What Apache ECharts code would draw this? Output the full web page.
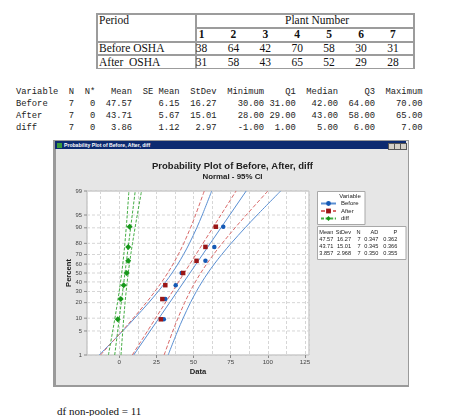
<!DOCTYPE html>
<html><head><meta charset="utf-8">
<script src="https://cdn.jsdelivr.net/npm/echarts/dist/echarts.min.js"></script>
<style>
html,body{margin:0;padding:0;background:#fff;width:460px;height:416px;overflow:hidden;position:relative}
.abs{position:absolute}
.serif{font-family:"Liberation Serif","Times New Roman",serif;font-size:11.5px;color:#111;white-space:pre;line-height:12px}
.hl{position:absolute;height:1.5px;background:#9c9c9c}
.vl{position:absolute;width:1.5px;background:#9c9c9c}
#stats{position:absolute;left:16px;top:87.4px;margin:0;font-family:"Liberation Mono","Courier New",monospace;font-size:8.8px;line-height:11.8px;color:#222;white-space:pre}
#win{position:absolute;left:53px;top:140px;width:352px;height:244px;background:#e6e6e6;border:1px solid #9a9a9a;border-left:3px solid #9a9a9a;border-bottom:2px solid #9a9a9a}
#tbar{position:absolute;left:55px;top:141px;width:351px;height:8px;background:#0c2a70}
#tbar span{position:absolute;left:9px;top:0;font:bold 5.1px "Liberation Sans",Arial,sans-serif;color:#fff;line-height:8px;white-space:nowrap}
.btn{position:absolute;top:142.5px;width:5px;height:5px;background:#d4d0c8;border:0.5px solid #555}
#chart{position:absolute;left:0;top:0;width:460px;height:416px}
</style></head>
<body>
<div id="tbl"></div>
<pre id="stats"></pre>
<div id="win"></div>
<div id="tbar"><span>Probability Plot of Before, After, diff</span><div class="abs" style="left:1.5px;top:1.5px;width:5px;height:5px;background:#3a9a3a"></div></div>
<div class="btn" style="left:388px"></div><div class="btn" style="left:394px"></div><div class="btn" style="left:400px"></div>
<div class="abs serif" style="left:57px;top:405px;font-size:11px">df non-pooled = 11</div>
<div id="chart"></div>
<script>
// ---------- table data ----------
const plantNumbers = [1, 2, 3, 4, 5, 6, 7];
const beforeOSHA = [38, 64, 42, 70, 58, 30, 31];
const afterOSHA  = [31, 58, 43, 65, 52, 29, 28];
const diffOSHA   = [7, 6, -1, 5, 6, 1, 3];

// ---------- descriptive statistics ----------
const statVars   = ['Before', 'After', 'diff'];
const statN      = ['7', '7', '7'];
const statNstar  = ['0', '0', '0'];
const statMean   = ['47.57', '43.71', '3.86'];
const statSEMean = ['6.15', '5.67', '1.12'];
const statStDev  = ['16.27', '15.01', '2.97'];
const statMin    = ['30.00', '28.00', '-1.00'];
const statQ1     = ['31.00', '29.00', '1.00'];
const statMedian = ['42.00', '43.00', '5.00'];
const statQ3     = ['64.00', '58.00', '6.00'];
const statMax    = ['70.00', '65.00', '7.00'];

// ---------- probability plot ----------
const plotPct   = [9.46, 22.97, 36.49, 50.00, 63.51, 77.03, 90.54];
const yTickPct  = [1, 5, 10, 20, 30, 40, 50, 60, 70, 80, 90, 95, 99];
const fitPct    = [1, 99];
const beforeFit = [9.72, 85.42];
const afterFit  = [8.79, 78.63];
const diffFit   = [-3.05, 10.76];
const ciPct     = [1, 5, 10, 20, 30, 40, 50, 60, 70, 80, 90, 95, 99];
const beforeLo  = [-13.48, 2.32, 10.45, 19.85, 26.18, 31.20, 35.52, 39.45, 43.25, 47.24, 52.16, 55.85, 62.22];
const beforeHi  = [32.92, 39.30, 42.98, 47.90, 51.89, 55.69, 59.62, 63.94, 68.96, 75.29, 84.69, 92.82, 108.62];
const afterLo   = [-12.61, 1.96, 9.47, 18.14, 23.98, 28.61, 32.59, 36.22, 39.72, 43.40, 47.94, 51.34, 57.22];
const afterHi   = [30.20, 36.08, 39.48, 44.02, 47.70, 51.21, 54.83, 58.81, 63.44, 69.28, 77.95, 85.46, 100.03];
const diffLo    = [-7.28, -4.40, -2.91, -1.20, -0.04, 0.87, 1.66, 2.38, 3.07, 3.80, 4.69, 5.37, 6.49];
const diffHi    = [1.18, 2.35, 3.02, 3.92, 4.65, 5.34, 6.06, 6.84, 7.76, 8.91, 10.63, 12.11, 15.00];
const boxMean   = ['47.57', '43.71', '3.857'];
const boxStDev  = ['16.27', '15.01', '2.968'];
const boxN      = ['7', '7', '7'];
const boxAD     = ['0.347', '0.345', '0.350'];
const boxP      = ['0.362', '0.366', '0.355'];

// ---------- build table ----------
(function(){
  const t = document.getElementById('tbl');
  let h = '';
  const L = 96, M = 195, R = 413;
  [[13, L], [27, M], [41, L], [54, L], [67.5, L]].forEach(([y, x0]) => {
    h += `<div class="hl" style="top:${y}px;left:${x0}px;width:${R - x0 + 1.5}px"></div>`;
  });
  [L, M, R].forEach(x => { h += `<div class="vl" style="left:${x}px;top:13px;height:56px"></div>`; });
  const rowY = [20, 33.5, 47.7, 61.5];
  const cell = (txt, cx, cy, bold) =>
    `<div class="abs serif" style="left:${cx - 15}px;width:30px;text-align:center;top:${cy - 6}px;${bold ? 'font-weight:bold;' : ''}">${txt}</div>`;
  h += `<div class="abs serif" style="left:99px;top:${rowY[0] - 6}px">Period</div>`;
  h += `<div class="abs serif" style="left:285px;top:${rowY[0] - 6}px">Plant Number</div>`;
  h += `<div class="abs serif" style="left:99px;top:${rowY[2] - 6}px">Before OSHA</div>`;
  h += `<div class="abs serif" style="left:99px;top:${rowY[3] - 6}px">After  OSHA</div>`;
  plantNumbers.forEach((p, i) => {
    const cx = 201.5 + 31.9 * i;
    h += cell(p, cx, rowY[1], true);
    h += cell(beforeOSHA[i], cx, rowY[2], false);
    h += cell(afterOSHA[i], cx, rowY[3], false);
  });
  t.innerHTML = h;

  const widths = [3, 4, 7, 9, 7, 9, 6, 8, 7, 9];
  const line = (name, vals) => name.padEnd(8) + vals.map((v, i) => String(v).padStart(widths[i])).join('');
  const lines = [line('Variable', ['N', 'N*', 'Mean', 'SE Mean', 'StDev', 'Minimum', 'Q1', 'Median', 'Q3', 'Maximum'])];
  statVars.forEach((v, i) => {
    lines.push(line(v, [statN[i], statNstar[i], statMean[i], statSEMean[i], statStDev[i], statMin[i], statQ1[i], statMedian[i], statQ3[i], statMax[i]]));
  });
  document.getElementById('stats').textContent = lines.join('\n');
})();

// ---------- normal probability scale ----------
function probit(p){
  const a=[-3.969683028665376e+01,2.209460984245205e+02,-2.759285104469687e+02,1.383577518672690e+02,-3.066479806614716e+01,2.506628277459239e+00];
  const b=[-5.447609879822406e+01,1.615858368580409e+02,-1.556989798598866e+02,6.680131188771972e+01,-1.328068155288572e+01];
  const c=[-7.784894002430293e-03,-3.223964580411365e-01,-2.400758277161838e+00,-2.549732539343734e+00,4.374664141464968e+00,2.938163982698783e+00];
  const d=[7.784695709041462e-03,3.224671290700398e-01,2.445134137142996e+00,3.754408661907416e+00];
  const pl=0.02425, ph=1-pl; let q, r;
  if (p < pl) { q=Math.sqrt(-2*Math.log(p)); return (((((c[0]*q+c[1])*q+c[2])*q+c[3])*q+c[4])*q+c[5])/((((d[0]*q+d[1])*q+d[2])*q+d[3])*q+1); }
  if (p > ph) { q=Math.sqrt(-2*Math.log(1-p)); return -(((((c[0]*q+c[1])*q+c[2])*q+c[3])*q+c[4])*q+c[5])/((((d[0]*q+d[1])*q+d[2])*q+d[3])*q+1); }
  q=p-0.5; r=q*q;
  return (((((a[0]*r+a[1])*r+a[2])*r+a[3])*r+a[4])*r+a[5])*q/(((((b[0]*r+b[1])*r+b[2])*r+b[3])*r+b[4])*r+1);
}
const Z = pct => probit(pct / 100);
const curve = (xs, ps) => xs.map((x, i) => [x, Z(ps[i])]);
const pts = vals => vals.slice().sort((a, b) => a - b).map((x, i) => [x, Z(plotPct[i])]);

const FONT = '"Liberation Sans", Arial, sans-serif';
const C = {
  Before: { line: '#5a8fd2', mark: '#1559b5', dash: 'solid', sym: 'circle', size: 4.5 },
  After:  { line: '#d86a6a', mark: '#9a1616', dash: [4, 2], sym: 'rect', size: 4.5 },
  diff:   { line: '#45ad45', mark: '#16981a', dash: [3, 1.6], sym: 'diamond', size: 6 }
};
const groups = [
  ['Before', beforeOSHA, beforeFit, beforeLo, beforeHi],
  ['After', afterOSHA, afterFit, afterLo, afterHi],
  ['diff', diffOSHA, diffFit, diffLo, diffHi]
];
const series = [];
groups.forEach(([name, vals, fit, lo, hi]) => {
  const c = C[name];
  const base = { type: 'line', name, showSymbol: false, symbol: c.sym, silent: true, z: 3,
    itemStyle: { color: c.mark }, lineStyle: { color: c.line, width: 1, type: c.dash } };
  series.push(Object.assign({}, base, { data: curve(fit, fitPct) }));
  series.push(Object.assign({}, base, { data: curve(lo, ciPct), smooth: 0.35 }));
  series.push(Object.assign({}, base, { data: curve(hi, ciPct), smooth: 0.35 }));
});
groups.forEach(([name, vals]) => {
  const c = C[name];
  series.push({ type: 'scatter', name, data: pts(vals), symbol: c.sym, symbolSize: c.size, z: 5, silent: true,
    itemStyle: { color: c.mark, opacity: 1 } });
});
series.push({
  type: 'custom', name: 'yticks', silent: true, z: 1, clip: false,
  data: yTickPct.map(p => [0, Z(p), p]),
  encode: { x: 0, y: 1 },
  renderItem: (params, api) => {
    const y = api.coord([0, api.value(1)])[1];
    const cs = params.coordSys;
    return { type: 'group', children: [
      { type: 'line', shape: { x1: cs.x, y1: y, x2: cs.x + cs.width, y2: y }, style: { stroke: '#d6d6d6', lineWidth: 1, lineDash: [3, 2] } },
      { type: 'line', shape: { x1: cs.x - 3, y1: y, x2: cs.x, y2: y }, style: { stroke: '#8a8a8a', lineWidth: 1 } },
      { type: 'text', x: cs.x - 5, y: y, style: { text: String(api.value(2)), align: 'right', verticalAlign: 'middle', fontSize: 5.8, fontFamily: FONT, fill: '#444' } }
    ] };
  }
});

const graphic = [
  { type: 'text', x: 232.5, y: 166.3, style: { text: 'Probability Plot of Before, After, diff', align: 'center', verticalAlign: 'middle', font: 'bold 9.5px ' + FONT, fill: '#222' } },
  { type: 'text', x: 232.5, y: 177, style: { text: 'Normal - 95% CI', align: 'center', verticalAlign: 'middle', font: 'bold 7.9px ' + FONT, fill: '#222' } },
  { type: 'rect', shape: { x: 317.5, y: 191.5, width: 47.5, height: 33 }, style: { fill: '#fff', stroke: '#a8a8a8', lineWidth: 1 } },
  { type: 'text', x: 350, y: 196, style: { text: 'Variable', align: 'center', verticalAlign: 'middle', font: '6px ' + FONT, fill: '#222' } },
  { type: 'rect', shape: { x: 317.5, y: 226.5, width: 88.5, height: 33 }, style: { fill: '#fff', stroke: '#a8a8a8', lineWidth: 1 } }
];
const colX = [333.3, 351, 360.5, 378.3, 397.3];
const rowsY = [232.3, 239.5, 246.6, 253.7];
const boxRows = [['Mean', 'StDev', 'N', 'AD', 'P']];
boxMean.forEach((m, i) => boxRows.push([m, boxStDev[i], boxN[i], boxAD[i], boxP[i]]));
boxRows.forEach((row, r) => row.forEach((txt, k) => {
  graphic.push({ type: 'text', x: colX[k], y: rowsY[r], style: { text: txt, align: 'right', verticalAlign: 'middle', font: '5.6px ' + FONT, fill: '#222' } });
}));

const chart = echarts.init(document.getElementById('chart'), null, { renderer: 'canvas' });
chart.setOption({
  animation: false,
  backgroundColor: 'transparent',
  grid: { left: 87, top: 191, width: 222, height: 164, show: true, backgroundColor: '#fff', borderColor: '#b4b4b4', borderWidth: 1 },
  xAxis: {
    type: 'value', min: -21.7, max: 127.7, minInterval: 25, maxInterval: 25, position: 'bottom',
    name: 'Data', nameLocation: 'middle', nameGap: 13,
    nameTextStyle: { fontSize: 7.6, fontWeight: 'bold', fontFamily: FONT, color: '#222' },
    axisLine: { show: false, onZero: false },
    axisTick: { show: true, length: 3, lineStyle: { color: '#8a8a8a' } },
    axisLabel: { fontSize: 6.2, fontFamily: FONT, color: '#444', margin: 4, showMinLabel: false, showMaxLabel: false,
      formatter: v => (Math.abs(v % 25) < 1e-9 ? String(v) : '') },
    splitLine: { show: true, lineStyle: { color: '#d6d6d6', type: [3, 2] } },
    minorTick: { show: false, splitNumber: 2 },
    minorSplitLine: { show: true, lineStyle: { color: '#d6d6d6', type: [3, 2] } }
  },
  yAxis: {
    type: 'value', min: Z(1), max: Z(99), position: 'left',
    name: 'Percent', nameLocation: 'middle', nameGap: 14,
    nameTextStyle: { fontSize: 7.6, fontWeight: 'bold', fontFamily: FONT, color: '#222' },
    axisLine: { show: false, onZero: false }, axisTick: { show: false }, axisLabel: { show: false }, splitLine: { show: false }
  },
  legend: {
    data: ['Before', 'After', 'diff'], orient: 'vertical', left: 320, top: 200.5,
    itemWidth: 15, itemHeight: 6, itemGap: 1.5, padding: 0, selectedMode: false,
    textStyle: { fontSize: 6, fontFamily: FONT, color: '#222' }
  },
  graphic,
  series
});
</script>
</body></html>
